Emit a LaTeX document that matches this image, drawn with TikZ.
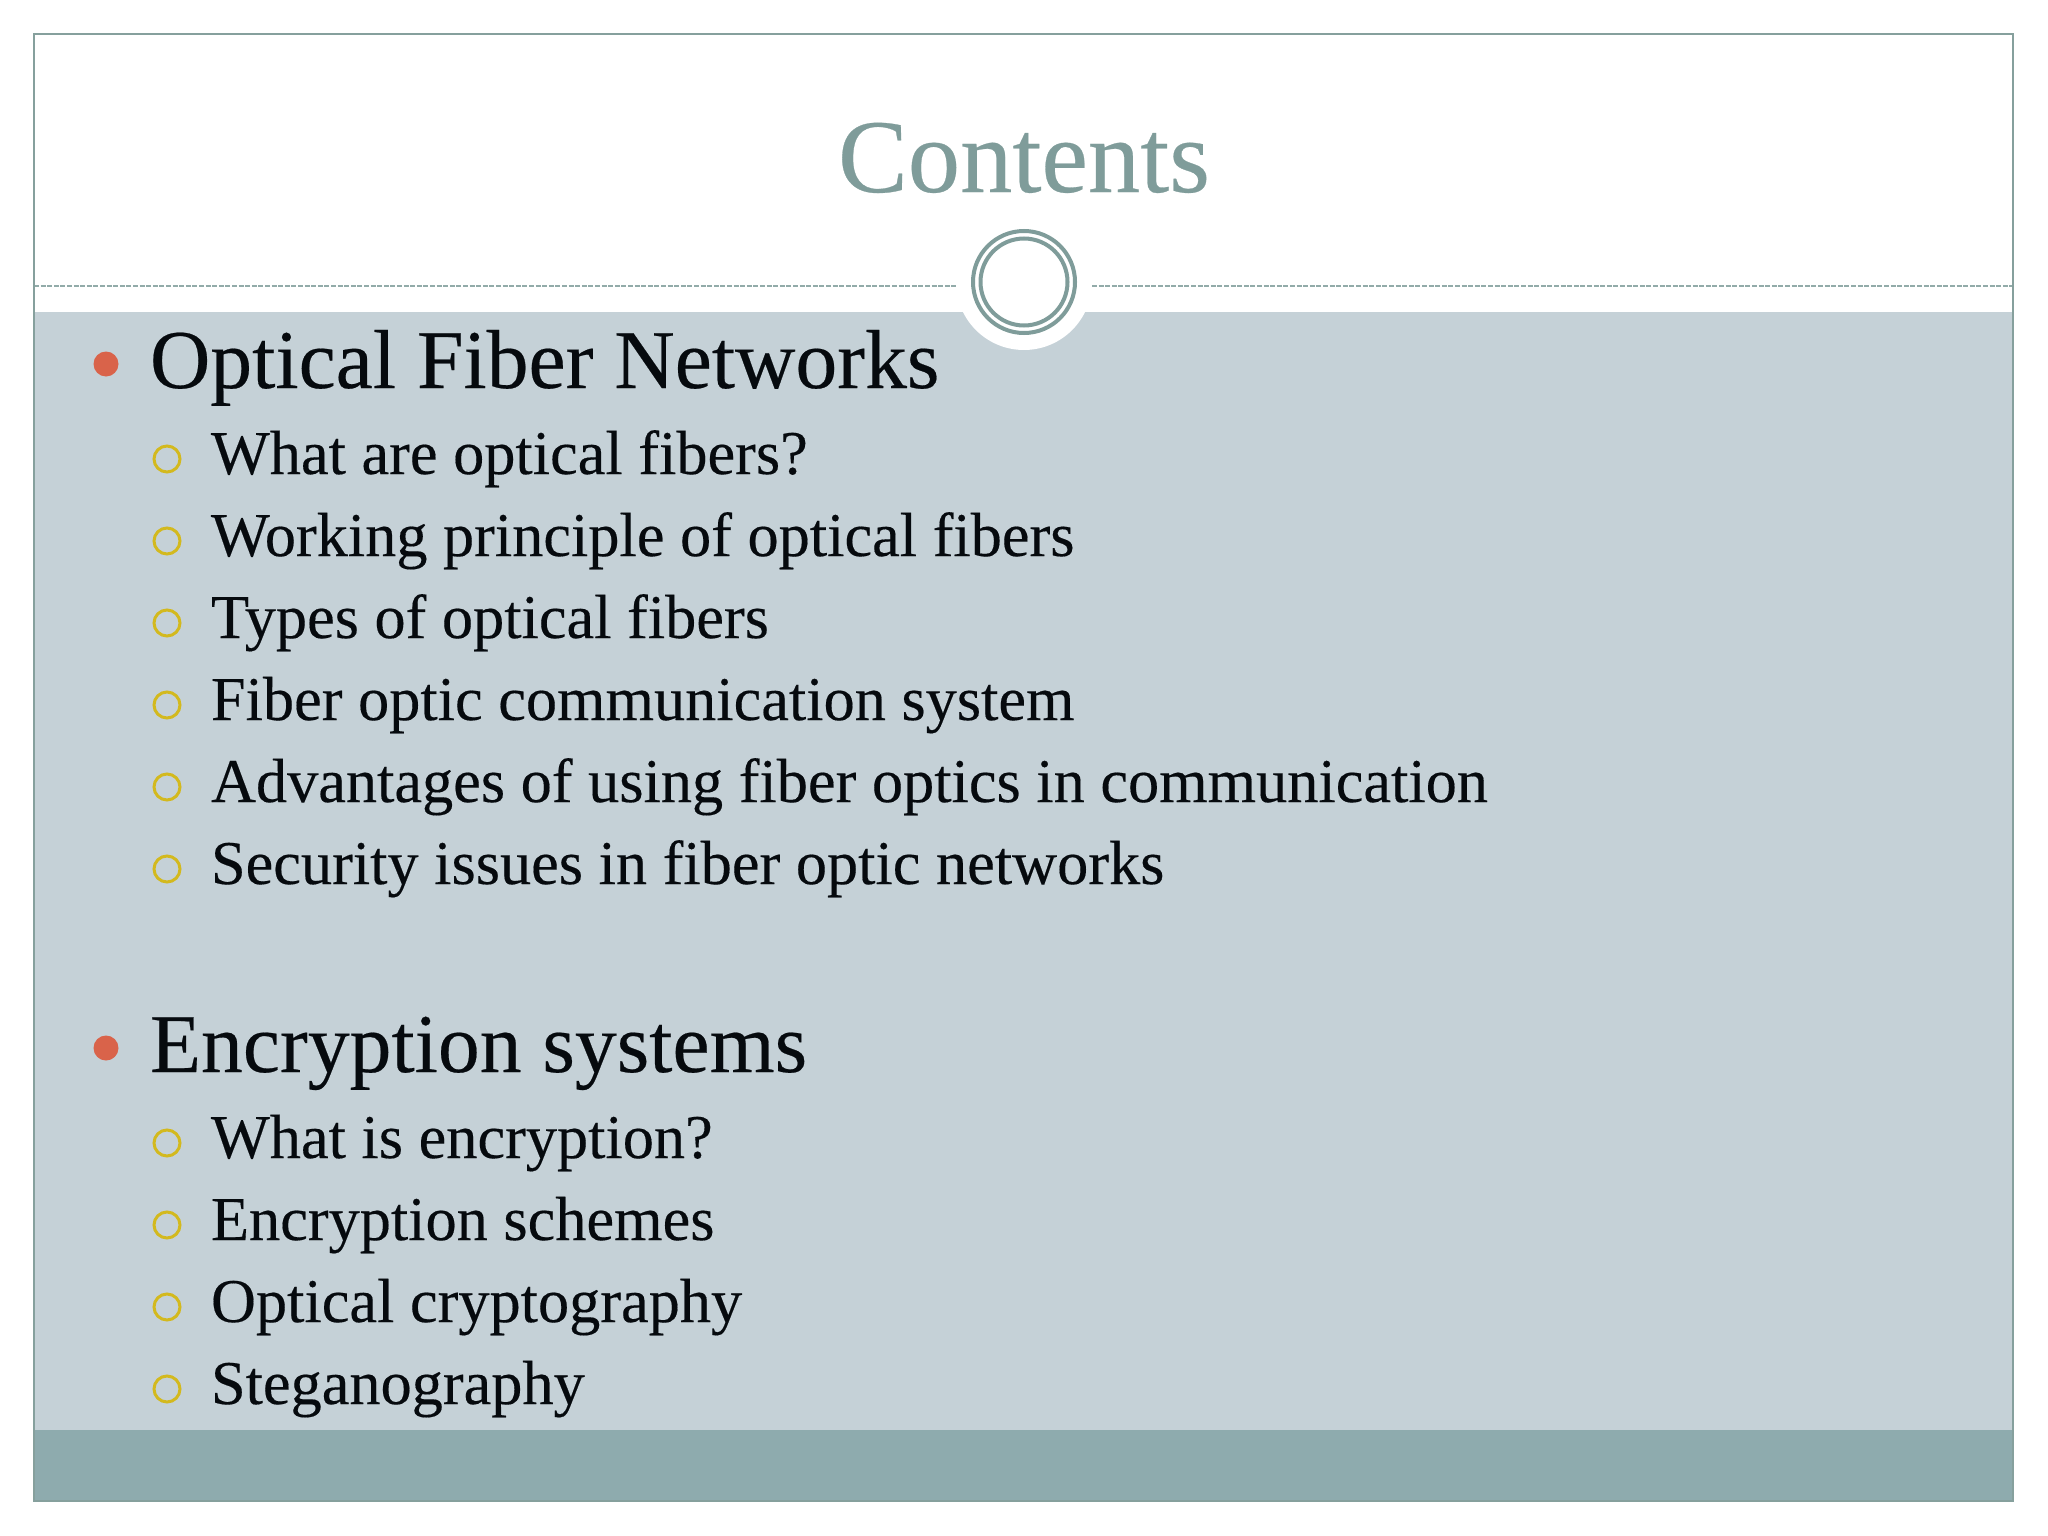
\documentclass[tikz,border=0pt]{standalone}
\usepackage{fontspec}
\setmainfont[FakeBold=0.25]{Liberation Serif}
\definecolor{bandc}{HTML}{C5D1D7}
\definecolor{footc}{HTML}{8EABAE}
\definecolor{framec}{HTML}{86A09D}
\definecolor{titlec}{HTML}{7F9C9A}
\definecolor{redc}{HTML}{D9634A}
\definecolor{yelc}{HTML}{D3B91E}
\definecolor{textc}{HTML}{060A0E}
\tikzset{
  x=1pt,y=-1pt,
  head/.style={anchor=base west,inner sep=0pt,outer sep=0pt,text=textc,font=\fontsize{83.6}{90}\selectfont},
  sub/.style={anchor=base west,inner sep=0pt,outer sep=0pt,text=textc,font=\fontsize{62.3}{70}\selectfont},
  titletext/.style={anchor=base,inner sep=0pt,outer sep=0pt,text=titlec,font=\fontsize{104.6}{110}\selectfont},
  dotbul/.style={circle,fill=redc,draw=none,minimum size=25pt,inner sep=0pt},
  ringbul/.style={circle,draw=yelc,line width=3pt,fill=none,minimum size=26pt,inner sep=0pt},
  ringline/.style={draw=titlec,line width=4pt,fill=none},
  rule/.style={draw=titlec!85,line width=1.5pt,dash pattern=on 5pt off 1.6pt}
}
\begin{document}
\begin{tikzpicture}
\useasboundingbox (0,0) rectangle (2048,1536);
\fill[white] (0,0) rectangle (2048,1536);
\fill[bandc] (34,312) rectangle (2013,1430);
\fill[footc] (34,1430) rectangle (2013,1501);
\fill[white] (1024,282) circle[radius=68];
\draw[rule] (34,286) -- (956,286);
\draw[rule] (1092,286) -- (2013,286);
\draw[framec,line width=2pt] (34,34) rectangle (2013,1501);
\draw[ringline] (1024,282) circle[radius=51];
\draw[ringline] (1024,282) circle[radius=43.5];
\node[titletext] (title) at (1024,192) {Contents};
\node[dotbul] (b1) at (106,364) {};
\node[head] (h1) at (150,388) {Optical Fiber Networks};
\node[ringbul] (r1) at (167,459) {};
\node[sub] (s1) at (211,474) {What are optical fibers?};
\node[ringbul] (r2) at (167,541) {};
\node[sub] (s2) at (211,556) {Working principle of optical fibers};
\node[ringbul] (r3) at (167,623) {};
\node[sub] (s3) at (211,638) {Types of optical fibers};
\node[ringbul] (r4) at (167,705) {};
\node[sub] (s4) at (211,720) {Fiber optic communication system};
\node[ringbul] (r5) at (167,787) {};
\node[sub] (s5) at (211,802) {Advantages of using fiber optics in communication};
\node[ringbul] (r6) at (167,869) {};
\node[sub] (s6) at (211,884) {Security issues in fiber optic networks};
\node[dotbul] (b2) at (106,1048) {};
\node[head] (h2) at (150,1072) {Encryption systems};
\node[ringbul] (r7) at (167,1143) {};
\node[sub] (s7) at (211,1158) {What is encryption?};
\node[ringbul] (r8) at (167,1225) {};
\node[sub] (s8) at (211,1240) {Encryption schemes};
\node[ringbul] (r9) at (167,1307) {};
\node[sub] (s9) at (211,1322) {Optical cryptography};
\node[ringbul] (r10) at (167,1389) {};
\node[sub] (s10) at (211,1404) {Steganography};
\end{tikzpicture}
\end{document}
